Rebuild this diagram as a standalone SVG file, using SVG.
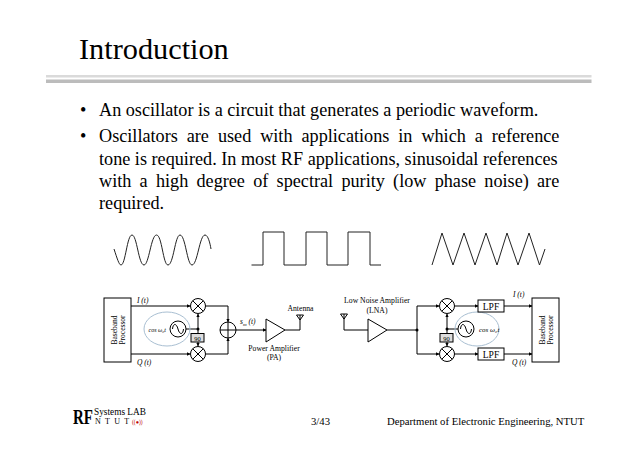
<svg xmlns="http://www.w3.org/2000/svg" width="638" height="451" viewBox="0 0 638 451">
<defs>
<style>
text{font-family:"Liberation Serif","Times New Roman",serif;fill:#000}
.body{font-size:18.2px}
.lab{font-size:7.7px}
.sm{font-size:7.5px}
.it{font-size:7.5px;font-style:italic}
.ln{fill:none;stroke:#000;stroke-width:1}
.box{fill:#fff;stroke:#000;stroke-width:1}
.wave{fill:none;stroke:#222;stroke-width:1}
.ell{fill:none;stroke:#a9bfd2;stroke-width:1}
</style>
<marker id="a" viewBox="0 0 6 6" refX="5.5" refY="3" markerWidth="3.500" markerHeight="3.500" orient="auto"><path d="M0 0L6 3L0 6Z" fill="#000"/></marker>
<g id="mix"><circle r="7.5" fill="#fff" stroke="#000"/><path d="M-5.3-5.3L5.3 5.3M-5.3 5.3L5.3-5.3" stroke="#000"/></g>
<g id="lo"><circle r="8" fill="#fff" stroke="#000"/><path d="M-5.5 0C-5-6-1.5-6 0 0S5 6 5.5 0" fill="none" stroke="#000"/></g>
<g id="ant"><path d="M-3.5 0H3.5L0 5ZM0 0V5" fill="none" stroke="#000"/></g>
</defs>
<rect width="638" height="451" fill="#fff"/>
<g id="header">
<text x="79" y="59" font-size="30.3">Introduction</text>
<rect x="46" y="75" width="545.500" height="2.500" fill="#dadada"/>
<rect x="46" y="79.500" width="545.500" height="3.500" fill="#bcbcbc"/>
</g>
<g id="bullets" class="body">
<text x="80" y="116">•</text><text x="99" y="116">An oscillator is a circuit that generates a periodic waveform.</text>
<text x="80" y="142">•</text><text x="99" y="142" word-spacing="4.4">Oscillators are used with applications in which a reference</text>
<text x="99" y="165">tone is required. In most RF applications, sinusoidal references</text>
<text x="99" y="187" word-spacing="3.7">with a high degree of spectral purity (low phase noise) are</text>
<text x="99" y="209">required.</text>
</g>
<g id="waves">
<path class="wave" d="M114 249C117 258 119 265 121 265C125.500 265 127 235 132 235C137 235 138.500 265 144 265C149 265 151 235 156.500 235C162 235 163 265 168 265C173.500 265 175 235 180 235C185.500 235 187 265 192 265C197.500 265 199.500 235 205 235C208 235 210 243 211 249"/>
<path class="wave" d="M251.500 265H263V232H284V265H306V232H327V265H348V232H370V265H381"/>
<path class="wave" d="M432 265L442 233L453 265L464 233L475 265L486 233L497 265L507 233L518 265L529 233L539.500 265L545 249"/>
</g>
<g id="connectors" class="ln">
<path d="M131 306H190" marker-end="url(#a)"/>
<path d="M131 354H190" marker-end="url(#a)"/>
<path d="M205.500 306H228V322" marker-end="url(#a)"/>
<path d="M205.500 354H228V338" marker-end="url(#a)"/>
<path d="M186 329H198"/>
<path d="M198 329V314" marker-end="url(#a)"/>
<path d="M198 333V329"/>
<path d="M198 342V346" marker-end="url(#a)"/>
<path d="M236 330H266" marker-end="url(#a)"/>
<path d="M285 330H300V320"/>
<path d="M344 318V330H368"/>
<path d="M387 330H417"/>
<path d="M417 330V306H439" marker-end="url(#a)"/>
<path d="M417 330V354H439" marker-end="url(#a)"/>
<path d="M454.500 306H478" marker-end="url(#a)"/>
<path d="M454.500 354H478" marker-end="url(#a)"/>
<path d="M504 306H532" marker-end="url(#a)"/>
<path d="M504 354H532" marker-end="url(#a)"/>
<path d="M458 329H447"/>
<path d="M447 329V314" marker-end="url(#a)"/>
<path d="M447 342V346" marker-end="url(#a)"/>
<path d="M447 333V329"/>
<circle cx="198" cy="329" r="1.500" fill="#000" stroke="none"/><circle cx="417" cy="330" r="1.500" fill="#000" stroke="none"/><circle cx="447" cy="329" r="1.500" fill="#000" stroke="none"/>
</g>
<g id="tx-baseband"><rect class="box" x="104" y="298" width="27" height="64"/>
<text class="sm" text-anchor="middle" transform="translate(117 330) rotate(-90)">Baseband</text>
<text class="sm" text-anchor="middle" transform="translate(125 330) rotate(-90)">Processor</text></g>
<g id="tx-i"><text class="it" x="137" y="303">I (t)</text></g>
<g id="tx-q"><text class="it" x="137" y="365">Q (t)</text></g>
<g id="tx-mixer-i"><use href="#mix" x="198" y="306"/></g>
<g id="tx-mixer-q"><use href="#mix" x="198" y="354"/></g>
<g id="tx-lo"><ellipse class="ell" cx="167" cy="329" rx="23" ry="17"/><use href="#lo" x="178" y="329"/><text x="148.500" y="331.500" font-size="6" font-style="italic">cos ω₀t</text></g>
<g id="tx-90"><rect x="191" y="333.500" width="13" height="8.500" fill="#ddd" stroke="#000"/><text x="197.500" y="340.500" font-size="6.500" text-anchor="middle">90</text></g>
<g id="tx-sum"><circle cx="228" cy="330" r="8" fill="#fff" stroke="#000"/><path d="M220 330H236M228 322V338" stroke="#000"/></g>
<g id="tx-s"><text class="it" x="240" y="324">s<tspan font-size="5" dy="1.500">m</tspan><tspan dy="-1.500"> (t)</tspan></text></g>
<g id="pa"><path class="box" d="M266 319V342L285 330Z"/><text class="lab" x="274" y="351" text-anchor="middle">Power Amplifier</text><text class="lab" x="274" y="360" text-anchor="middle">(PA)</text></g>
<g id="tx-antenna"><use href="#ant" x="300" y="315"/><text class="lab" x="300.500" y="311" text-anchor="middle">Antenna</text></g>
<g id="rx-antenna"><use href="#ant" x="344" y="314"/></g>
<g id="lna"><path class="box" d="M368 319V342L387 330Z"/><text class="lab" x="377" y="303" text-anchor="middle">Low Noise Amplifier</text><text class="lab" x="377" y="313" text-anchor="middle">(LNA)</text></g>
<g id="rx-mixer-i"><use href="#mix" x="447" y="306"/></g>
<g id="rx-mixer-q"><use href="#mix" x="447" y="354"/></g>
<g id="rx-lo"><ellipse class="ell" cx="477" cy="329" rx="22" ry="17"/><use href="#lo" x="466" y="329"/><text x="479" y="331.500" font-size="7" font-style="italic">cos ω₀t</text></g>
<g id="rx-90"><rect x="440" y="333.500" width="13" height="8.500" fill="#ddd" stroke="#000"/><text x="446.500" y="340.500" font-size="6.500" text-anchor="middle">90</text></g>
<g id="lpf-i"><rect class="box" x="478" y="300" width="26" height="12"/><text x="491" y="309.500" font-size="9.500" text-anchor="middle">LPF</text></g>
<g id="lpf-q"><rect class="box" x="478" y="348" width="26" height="12"/><text x="491" y="357.500" font-size="9.500" text-anchor="middle">LPF</text></g>
<g id="rx-i"><text class="it" x="513" y="297">I (t)</text></g>
<g id="rx-q"><text class="it" x="512" y="365">Q (t)</text></g>
<g id="rx-baseband"><rect class="box" x="532" y="298" width="27" height="64"/>
<text class="sm" text-anchor="middle" transform="translate(545 330) rotate(-90)">Baseband</text>
<text class="sm" text-anchor="middle" transform="translate(553 330) rotate(-90)">Processor</text></g>
<g id="footer">
<text transform="translate(73 424) scale(.68 1)" font-size="22" font-weight="bold">RF</text>
<text x="94" y="415" font-size="9.300">Systems LAB</text>
<text x="95" y="424" font-size="8" letter-spacing="4.3">NTUT</text>
<text x="132" y="424" font-size="5.500" style="fill:#c00000">((●))</text>
<text x="311" y="425" font-size="10.7">3/43</text>
<text x="387" y="425" font-size="10.7">Department of Electronic Engineering, NTUT</text>
</g>
</svg>
